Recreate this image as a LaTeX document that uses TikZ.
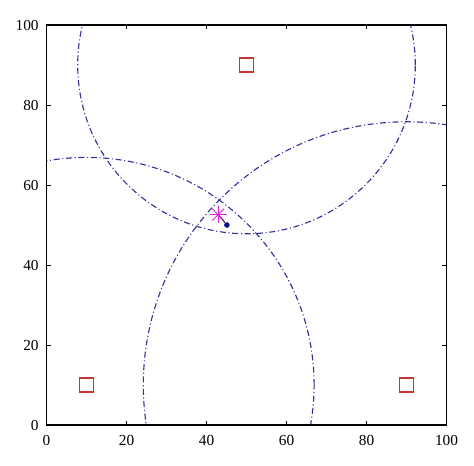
\documentclass[tikz,border=0pt]{standalone}
\usepackage{fontspec}
\setmainfont{Liberation Serif}
\definecolor{circblue}{rgb}{0.2,0.2,0.62}
\definecolor{sqred}{rgb}{0.8,0.2,0.2}
\definecolor{starmag}{rgb}{0.85,0.15,0.85}
\definecolor{dotblue}{rgb}{0.05,0.05,0.6}
\begin{document}
\begin{tikzpicture}[x=3pt,y=3pt,
  circ/.style={draw=circblue, line width=0.85pt, dash pattern=on 4.5pt off 2pt on 0.8pt off 2pt},
  anchorsq/.style={draw=sqred, line width=0.8pt, minimum size=10.5pt, inner sep=0pt, rectangle},
  ticklab/.style={font=\fontsize{11.5}{13}\selectfont, inner sep=0pt},
  axisline/.style={draw=black, line width=0.9pt},
  tickline/.style={draw=black, line width=0.7pt}]
\useasboundingbox (-11.625,-10.25) rectangle (106.875,106.25);
% circles
\begin{scope}
\clip (0,0) rectangle (100,100);
\draw[circ] (50,90) circle (42.2);
\draw[circ] (10,10) circle (56.9);
\draw[circ] (90,10) circle (65.8);
\end{scope}
% axes box
\draw[axisline] (0,0) rectangle (100,100);
\foreach \v in {20,40,60,80} {
  \draw[tickline] (\v,0) -- (\v,1.1);
  \draw[tickline] (\v,100) -- (\v,98.9);
  \draw[tickline] (0,\v) -- (1.1,\v);
  \draw[tickline] (100,\v) -- (98.9,\v);
}
\foreach \v in {0,20,40,60,80,100} {
  \node[ticklab, anchor=north] (xl\v) at (\v,-2.6) {\v};
  \node[ticklab, anchor=east] (yl\v) at (-1.9,\v) {\v};
}
% anchors
\node[anchorsq] (a1) at (50,90) {};
\node[anchorsq] (a2) at (10,10) {};
\node[anchorsq] (a3) at (90,10) {};
% estimate and true position
\coordinate (star) at (42.9,52.6);
\node[circle, fill=dotblue, inner sep=0pt, minimum size=4.2pt] (dot) at (45.1,50.0) {};
\draw[black, line width=0.6pt] (star) -- (dot);
\foreach \a in {0,45,...,315} {
  \draw[starmag, line width=0.6pt] (star) -- ++(\a:2.1);
}
\end{tikzpicture}
\end{document}
